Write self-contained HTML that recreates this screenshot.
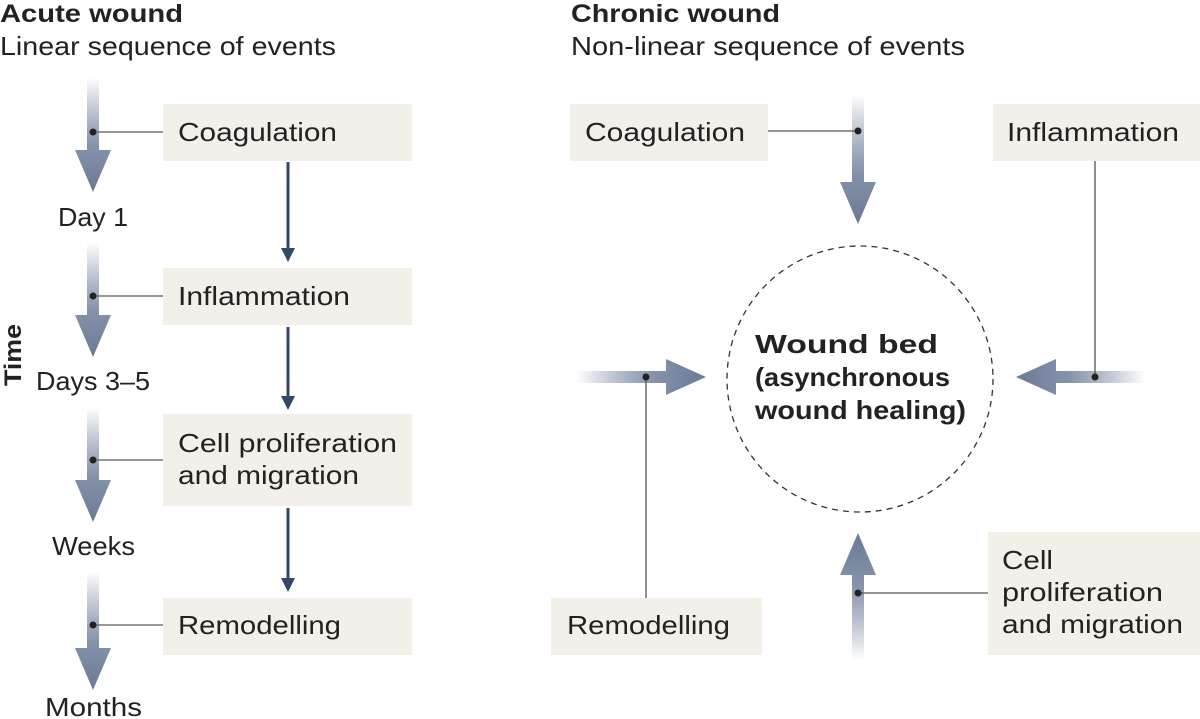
<!DOCTYPE html>
<html><head><meta charset="utf-8"><style>
html,body{margin:0;padding:0;background:#fff;}
svg{display:block;font-family:"Liberation Sans",sans-serif;}
</style></head><body>
<svg width="1200" height="719" viewBox="0 0 1200 719" xmlns="http://www.w3.org/2000/svg">
<defs>
<linearGradient id="gd" x1="0" y1="0" x2="0" y2="1"><stop offset="0" stop-color="#6b7a95" stop-opacity="0"/><stop offset="0.6" stop-color="#8592aa"/><stop offset="1" stop-color="#6b7a95"/></linearGradient>
<linearGradient id="gu" x1="0" y1="1" x2="0" y2="0"><stop offset="0" stop-color="#6b7a95" stop-opacity="0"/><stop offset="0.6" stop-color="#8592aa"/><stop offset="1" stop-color="#6b7a95"/></linearGradient>
<linearGradient id="gr" x1="0" y1="0" x2="1" y2="0"><stop offset="0" stop-color="#6b7a95" stop-opacity="0"/><stop offset="0.6" stop-color="#8592aa"/><stop offset="1" stop-color="#6b7a95"/></linearGradient>
<linearGradient id="gl" x1="1" y1="0" x2="0" y2="0"><stop offset="0" stop-color="#6b7a95" stop-opacity="0"/><stop offset="0.6" stop-color="#8592aa"/><stop offset="1" stop-color="#6b7a95"/></linearGradient>
</defs>
<g font-size="26" fill="#222">
<text x="0" y="22" font-weight="bold" font-size="25" textLength="183" lengthAdjust="spacingAndGlyphs">Acute wound</text>
<text x="0" y="55" textLength="336" lengthAdjust="spacingAndGlyphs">Linear sequence of events</text>
<text x="571" y="22" font-weight="bold" font-size="25" textLength="209" lengthAdjust="spacingAndGlyphs">Chronic wound</text>
<text x="571" y="55" textLength="394" lengthAdjust="spacingAndGlyphs">Non-linear sequence of events</text>
</g>
<g>
<path d="M87 78H99V150H111L93 192L75 150H87Z" fill="url(#gd)"/>
<path d="M87 243H99V315H111L93 357L75 315H87Z" fill="url(#gd)"/>
<path d="M87 408H99V480H111L93 522L75 480H87Z" fill="url(#gd)"/>
<path d="M87 572H99V648H111L93 690L75 648H87Z" fill="url(#gd)"/>
</g>
<g stroke="#777" stroke-width="1.5">
<line x1="93" y1="132" x2="163" y2="132"/><line x1="93" y1="296" x2="163" y2="296"/>
<line x1="93" y1="460" x2="163" y2="460"/><line x1="93" y1="625" x2="163" y2="625"/>
</g>
<g fill="#222"><circle cx="93" cy="132" r="3.5"/><circle cx="93" cy="296" r="3.5"/><circle cx="93" cy="460" r="3.5"/><circle cx="93" cy="625" r="3.5"/></g>
<g fill="#f3f0ea">
<rect x="163" y="104" width="249" height="57"/><rect x="163" y="268" width="249" height="57"/>
<rect x="163" y="414" width="249" height="92"/><rect x="163" y="598" width="249" height="57"/>
<rect x="570" y="104" width="198" height="57"/><rect x="993" y="104" width="207" height="57"/>
<rect x="551" y="598" width="211" height="57"/><rect x="988" y="532" width="212" height="123"/>
</g>
<g fill="#34466a" stroke="#34466a">
<line x1="288" y1="162" x2="288" y2="255" stroke-width="3"/><path d="M281 248H295L288 262Z" stroke="none"/>
<line x1="288" y1="327" x2="288" y2="403" stroke-width="3"/><path d="M281 396H295L288 410Z" stroke="none"/>
<line x1="288" y1="508" x2="288" y2="585" stroke-width="3"/><path d="M281 578H295L288 592Z" stroke="none"/>
</g>
<g font-size="26" fill="#222" lengthAdjust="spacingAndGlyphs">
<text x="178" y="141" textLength="159" lengthAdjust="spacingAndGlyphs">Coagulation</text>
<text x="178" y="305" textLength="172" lengthAdjust="spacingAndGlyphs">Inflammation</text>
<text x="178" y="452" textLength="219" lengthAdjust="spacingAndGlyphs">Cell proliferation</text>
<text x="178" y="484" textLength="181" lengthAdjust="spacingAndGlyphs">and migration</text>
<text x="178" y="634" textLength="163" lengthAdjust="spacingAndGlyphs">Remodelling</text>
<text x="58" y="226" textLength="70" lengthAdjust="spacingAndGlyphs">Day 1</text>
<text x="36" y="390" textLength="114" lengthAdjust="spacingAndGlyphs">Days 3–5</text>
<text x="52" y="555" textLength="83" lengthAdjust="spacingAndGlyphs">Weeks</text>
<text x="45" y="716" textLength="97" lengthAdjust="spacingAndGlyphs">Months</text>
<text transform="translate(21,386) rotate(-90)" font-weight="bold" font-size="24" textLength="62" lengthAdjust="spacingAndGlyphs">Time</text>
<text x="585" y="141" textLength="160" lengthAdjust="spacingAndGlyphs">Coagulation</text>
<text x="1007" y="141" textLength="172" lengthAdjust="spacingAndGlyphs">Inflammation</text>
<text x="567" y="634" textLength="163" lengthAdjust="spacingAndGlyphs">Remodelling</text>
<text x="1002" y="569" textLength="51" lengthAdjust="spacingAndGlyphs">Cell</text>
<text x="1002" y="601" textLength="161" lengthAdjust="spacingAndGlyphs">proliferation</text>
<text x="1002" y="633" textLength="181" lengthAdjust="spacingAndGlyphs">and migration</text>
</g>
<circle cx="860" cy="379" r="133" fill="none" stroke="#333" stroke-width="1.3" stroke-dasharray="6,5"/>
<g font-size="26" font-weight="bold" fill="#222">
<text x="755" y="353" textLength="183" lengthAdjust="spacingAndGlyphs">Wound bed</text>
<text x="755" y="386" textLength="195" lengthAdjust="spacingAndGlyphs">(asynchronous</text>
<text x="755" y="419" textLength="211" lengthAdjust="spacingAndGlyphs">wound healing)</text>
</g>
<path d="M852 95H864V182H876L858 224L840 182H852Z" fill="url(#gd)"/>
<path d="M852 660H864V575H876L858 533L840 575H852Z" fill="url(#gu)"/>
<path d="M577 371V383H666V395L706 377L666 359V371Z" fill="url(#gr)"/>
<path d="M1145 371V383H1056V395L1016 377L1056 359V371Z" fill="url(#gl)"/>
<g stroke="#555" stroke-width="1.3">
<line x1="768" y1="131" x2="858" y2="131"/>
<line x1="1095" y1="161" x2="1095" y2="377"/>
<line x1="646" y1="377" x2="646" y2="598"/>
<line x1="858" y1="593" x2="988" y2="593"/>
</g>
<g fill="#222"><circle cx="858" cy="131" r="3.5"/><circle cx="1095" cy="377" r="3.5"/><circle cx="646" cy="377" r="3.5"/><circle cx="858" cy="593" r="3.5"/></g>
</svg>
</body></html>
